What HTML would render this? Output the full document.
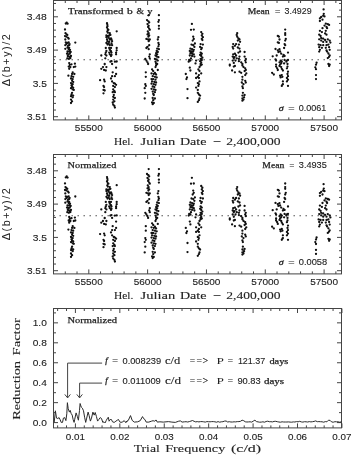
<!DOCTYPE html>
<html><head><meta charset="utf-8"><title>Plot</title>
<style>html,body{margin:0;padding:0;background:#fff;}svg{display:block;}</style>
</head><body>
<svg width="351" height="455" viewBox="0 0 351 455">
<rect width="351" height="455" fill="#fff"/>
<g fill="#222">
<rect x="53.5" y="0.5" width="288.00" height="119.4" fill="none" stroke="#444" stroke-width="1"/>
<path d="M65.27 119.9v-2.5M65.27 0.5v2.5M77.03 119.9v-2.5M77.03 0.5v2.5M88.80 119.9v-4.5M88.80 0.5v4.5M100.56 119.9v-2.5M100.56 0.5v2.5M112.33 119.9v-2.5M112.33 0.5v2.5M124.09 119.9v-2.5M124.09 0.5v2.5M135.86 119.9v-2.5M135.86 0.5v2.5M147.62 119.9v-4.5M147.62 0.5v4.5M159.38 119.9v-2.5M159.38 0.5v2.5M171.15 119.9v-2.5M171.15 0.5v2.5M182.91 119.9v-2.5M182.91 0.5v2.5M194.68 119.9v-2.5M194.68 0.5v2.5M206.44 119.9v-4.5M206.44 0.5v4.5M218.21 119.9v-2.5M218.21 0.5v2.5M229.97 119.9v-2.5M229.97 0.5v2.5M241.74 119.9v-2.5M241.74 0.5v2.5M253.50 119.9v-2.5M253.50 0.5v2.5M265.27 119.9v-4.5M265.27 0.5v4.5M277.03 119.9v-2.5M277.03 0.5v2.5M288.80 119.9v-2.5M288.80 0.5v2.5M300.56 119.9v-2.5M300.56 0.5v2.5M312.33 119.9v-2.5M312.33 0.5v2.5M324.10 119.9v-4.5M324.10 0.5v4.5M335.86 119.9v-2.5M335.86 0.5v2.5M53.5 3.48h2.5M341.5 3.48h-2.5M53.5 10.14h2.5M341.5 10.14h-2.5M53.5 16.80h4.5M341.5 16.80h-4.5M53.5 23.46h2.5M341.5 23.46h-2.5M53.5 30.12h2.5M341.5 30.12h-2.5M53.5 36.78h2.5M341.5 36.78h-2.5M53.5 43.44h2.5M341.5 43.44h-2.5M53.5 50.10h4.5M341.5 50.10h-4.5M53.5 56.76h2.5M341.5 56.76h-2.5M53.5 63.42h2.5M341.5 63.42h-2.5M53.5 70.08h2.5M341.5 70.08h-2.5M53.5 76.74h2.5M341.5 76.74h-2.5M53.5 83.40h4.5M341.5 83.40h-4.5M53.5 90.06h2.5M341.5 90.06h-2.5M53.5 96.72h2.5M341.5 96.72h-2.5M53.5 103.38h2.5M341.5 103.38h-2.5M53.5 110.04h2.5M341.5 110.04h-2.5M53.5 116.70h4.5M341.5 116.70h-4.5" stroke="#444" stroke-width="1" fill="none"/>
<text x="26.70" y="20.10" font-family='"Liberation Sans", sans-serif' font-size="8.7" text-anchor="start" textLength="20.20" lengthAdjust="spacingAndGlyphs" stroke="#222" stroke-width="0.1" >3.48</text>
<text x="26.70" y="53.40" font-family='"Liberation Sans", sans-serif' font-size="8.7" text-anchor="start" textLength="20.20" lengthAdjust="spacingAndGlyphs" stroke="#222" stroke-width="0.1" >3.49</text>
<text x="32.70" y="86.70" font-family='"Liberation Sans", sans-serif' font-size="8.7" text-anchor="start" textLength="14.20" lengthAdjust="spacingAndGlyphs" stroke="#222" stroke-width="0.1" >3.5</text>
<text x="26.90" y="120.00" font-family='"Liberation Sans", sans-serif' font-size="8.7" text-anchor="start" textLength="19.60" lengthAdjust="spacingAndGlyphs" stroke="#222" stroke-width="0.1" >3.51</text>
<text x="74.84" y="131.00" font-family='"Liberation Sans", sans-serif' font-size="8.7" text-anchor="start" textLength="27.90" lengthAdjust="spacingAndGlyphs" stroke="#222" stroke-width="0.1" >55500</text>
<text x="133.67" y="131.00" font-family='"Liberation Sans", sans-serif' font-size="8.7" text-anchor="start" textLength="27.90" lengthAdjust="spacingAndGlyphs" stroke="#222" stroke-width="0.1" >56000</text>
<text x="192.49" y="131.00" font-family='"Liberation Sans", sans-serif' font-size="8.7" text-anchor="start" textLength="27.90" lengthAdjust="spacingAndGlyphs" stroke="#222" stroke-width="0.1" >56500</text>
<text x="251.32" y="131.00" font-family='"Liberation Sans", sans-serif' font-size="8.7" text-anchor="start" textLength="27.90" lengthAdjust="spacingAndGlyphs" stroke="#222" stroke-width="0.1" >57000</text>
<text x="310.15" y="131.00" font-family='"Liberation Sans", sans-serif' font-size="8.7" text-anchor="start" textLength="27.90" lengthAdjust="spacingAndGlyphs" stroke="#222" stroke-width="0.1" >57500</text>
<text x="114.00" y="144.60" font-family='"Liberation Serif", serif' font-size="11.0" text-anchor="start" textLength="19.30" lengthAdjust="spacingAndGlyphs" stroke="#222" stroke-width="0.1" >Hel.</text>
<text x="140.50" y="144.60" font-family='"Liberation Serif", serif' font-size="11.0" text-anchor="start" textLength="34.80" lengthAdjust="spacingAndGlyphs" stroke="#222" stroke-width="0.1" >Julian</text>
<text x="179.90" y="144.60" font-family='"Liberation Serif", serif' font-size="11.0" text-anchor="start" textLength="26.60" lengthAdjust="spacingAndGlyphs" stroke="#222" stroke-width="0.1" >Date</text>
<text x="212.70" y="144.60" font-family='"Liberation Serif", serif' font-size="11.0" text-anchor="start" textLength="8.10" lengthAdjust="spacingAndGlyphs" stroke="#222" stroke-width="0.1" >−</text>
<text x="226.30" y="144.60" font-family='"Liberation Serif", serif' font-size="11.0" text-anchor="start" textLength="54.20" lengthAdjust="spacingAndGlyphs" stroke="#222" stroke-width="0.1" >2,400,000</text>
<text transform="translate(9.80 86.30) rotate(-90)" font-family='"Liberation Sans", sans-serif' font-size="10.8" textLength="52.20" lengthAdjust="spacing">Δ(b+y)/2</text>
<rect x="53.5" y="154.5" width="288.00" height="119.4" fill="none" stroke="#444" stroke-width="1"/>
<path d="M65.27 273.9v-2.5M65.27 154.5v2.5M77.03 273.9v-2.5M77.03 154.5v2.5M88.80 273.9v-4.5M88.80 154.5v4.5M100.56 273.9v-2.5M100.56 154.5v2.5M112.33 273.9v-2.5M112.33 154.5v2.5M124.09 273.9v-2.5M124.09 154.5v2.5M135.86 273.9v-2.5M135.86 154.5v2.5M147.62 273.9v-4.5M147.62 154.5v4.5M159.38 273.9v-2.5M159.38 154.5v2.5M171.15 273.9v-2.5M171.15 154.5v2.5M182.91 273.9v-2.5M182.91 154.5v2.5M194.68 273.9v-2.5M194.68 154.5v2.5M206.44 273.9v-4.5M206.44 154.5v4.5M218.21 273.9v-2.5M218.21 154.5v2.5M229.97 273.9v-2.5M229.97 154.5v2.5M241.74 273.9v-2.5M241.74 154.5v2.5M253.50 273.9v-2.5M253.50 154.5v2.5M265.27 273.9v-4.5M265.27 154.5v4.5M277.03 273.9v-2.5M277.03 154.5v2.5M288.80 273.9v-2.5M288.80 154.5v2.5M300.56 273.9v-2.5M300.56 154.5v2.5M312.33 273.9v-2.5M312.33 154.5v2.5M324.10 273.9v-4.5M324.10 154.5v4.5M335.86 273.9v-2.5M335.86 154.5v2.5M53.5 157.48h2.5M341.5 157.48h-2.5M53.5 164.14h2.5M341.5 164.14h-2.5M53.5 170.80h4.5M341.5 170.80h-4.5M53.5 177.46h2.5M341.5 177.46h-2.5M53.5 184.12h2.5M341.5 184.12h-2.5M53.5 190.78h2.5M341.5 190.78h-2.5M53.5 197.44h2.5M341.5 197.44h-2.5M53.5 204.10h4.5M341.5 204.10h-4.5M53.5 210.76h2.5M341.5 210.76h-2.5M53.5 217.42h2.5M341.5 217.42h-2.5M53.5 224.08h2.5M341.5 224.08h-2.5M53.5 230.74h2.5M341.5 230.74h-2.5M53.5 237.40h4.5M341.5 237.40h-4.5M53.5 244.06h2.5M341.5 244.06h-2.5M53.5 250.72h2.5M341.5 250.72h-2.5M53.5 257.38h2.5M341.5 257.38h-2.5M53.5 264.04h2.5M341.5 264.04h-2.5M53.5 270.70h4.5M341.5 270.70h-4.5" stroke="#444" stroke-width="1" fill="none"/>
<text x="26.70" y="174.10" font-family='"Liberation Sans", sans-serif' font-size="8.7" text-anchor="start" textLength="20.20" lengthAdjust="spacingAndGlyphs" stroke="#222" stroke-width="0.1" >3.48</text>
<text x="26.70" y="207.40" font-family='"Liberation Sans", sans-serif' font-size="8.7" text-anchor="start" textLength="20.20" lengthAdjust="spacingAndGlyphs" stroke="#222" stroke-width="0.1" >3.49</text>
<text x="32.70" y="240.70" font-family='"Liberation Sans", sans-serif' font-size="8.7" text-anchor="start" textLength="14.20" lengthAdjust="spacingAndGlyphs" stroke="#222" stroke-width="0.1" >3.5</text>
<text x="26.90" y="274.00" font-family='"Liberation Sans", sans-serif' font-size="8.7" text-anchor="start" textLength="19.60" lengthAdjust="spacingAndGlyphs" stroke="#222" stroke-width="0.1" >3.51</text>
<text x="74.84" y="285.00" font-family='"Liberation Sans", sans-serif' font-size="8.7" text-anchor="start" textLength="27.90" lengthAdjust="spacingAndGlyphs" stroke="#222" stroke-width="0.1" >55500</text>
<text x="133.67" y="285.00" font-family='"Liberation Sans", sans-serif' font-size="8.7" text-anchor="start" textLength="27.90" lengthAdjust="spacingAndGlyphs" stroke="#222" stroke-width="0.1" >56000</text>
<text x="192.49" y="285.00" font-family='"Liberation Sans", sans-serif' font-size="8.7" text-anchor="start" textLength="27.90" lengthAdjust="spacingAndGlyphs" stroke="#222" stroke-width="0.1" >56500</text>
<text x="251.32" y="285.00" font-family='"Liberation Sans", sans-serif' font-size="8.7" text-anchor="start" textLength="27.90" lengthAdjust="spacingAndGlyphs" stroke="#222" stroke-width="0.1" >57000</text>
<text x="310.15" y="285.00" font-family='"Liberation Sans", sans-serif' font-size="8.7" text-anchor="start" textLength="27.90" lengthAdjust="spacingAndGlyphs" stroke="#222" stroke-width="0.1" >57500</text>
<text x="114.00" y="298.60" font-family='"Liberation Serif", serif' font-size="11.0" text-anchor="start" textLength="19.30" lengthAdjust="spacingAndGlyphs" stroke="#222" stroke-width="0.1" >Hel.</text>
<text x="140.50" y="298.60" font-family='"Liberation Serif", serif' font-size="11.0" text-anchor="start" textLength="34.80" lengthAdjust="spacingAndGlyphs" stroke="#222" stroke-width="0.1" >Julian</text>
<text x="179.90" y="298.60" font-family='"Liberation Serif", serif' font-size="11.0" text-anchor="start" textLength="26.60" lengthAdjust="spacingAndGlyphs" stroke="#222" stroke-width="0.1" >Date</text>
<text x="212.70" y="298.60" font-family='"Liberation Serif", serif' font-size="11.0" text-anchor="start" textLength="8.10" lengthAdjust="spacingAndGlyphs" stroke="#222" stroke-width="0.1" >−</text>
<text x="226.30" y="298.60" font-family='"Liberation Serif", serif' font-size="11.0" text-anchor="start" textLength="54.20" lengthAdjust="spacingAndGlyphs" stroke="#222" stroke-width="0.1" >2,400,000</text>
<text transform="translate(9.80 240.30) rotate(-90)" font-family='"Liberation Sans", sans-serif' font-size="10.8" textLength="52.20" lengthAdjust="spacing">Δ(b+y)/2</text>
<text x="68.00" y="14.10" font-family='"Liberation Serif", serif' font-size="8.8" text-anchor="start" textLength="55.40" lengthAdjust="spacingAndGlyphs" stroke="#222" stroke-width="0.25" >Transformed</text>
<text x="127.10" y="14.10" font-family='"Liberation Serif", serif' font-size="8.8" text-anchor="start" textLength="5.70" lengthAdjust="spacingAndGlyphs" stroke="#222" stroke-width="0.25" >b</text>
<text x="136.50" y="14.10" font-family='"Liberation Serif", serif' font-size="8.8" text-anchor="start" textLength="7.40" lengthAdjust="spacingAndGlyphs" stroke="#222" stroke-width="0.25" >&amp;</text>
<text x="147.20" y="14.10" font-family='"Liberation Serif", serif' font-size="8.8" text-anchor="start" textLength="5.20" lengthAdjust="spacingAndGlyphs" stroke="#222" stroke-width="0.25" >y</text>
<text x="247.70" y="14.20" font-family='"Liberation Serif", serif' font-size="8.8" text-anchor="start" textLength="21.90" lengthAdjust="spacingAndGlyphs" stroke="#222" stroke-width="0.25" >Mean</text>
<text x="274.70" y="14.70" font-family='"Liberation Serif", serif' font-size="9.6" text-anchor="start" textLength="5.80" lengthAdjust="spacingAndGlyphs" >=</text>
<text x="284.50" y="14.10" font-family='"Liberation Sans", sans-serif' font-size="8.2" text-anchor="start" textLength="27.10" lengthAdjust="spacingAndGlyphs" stroke="#222" stroke-width="0.1" >3.4929</text>
<text x="278.80" y="111.40" font-family='"Liberation Serif", serif' font-size="8.8" text-anchor="start" textLength="4.90" lengthAdjust="spacingAndGlyphs" stroke="#222" stroke-width="0.35" ><tspan font-style="italic">σ</tspan></text>
<text x="288.00" y="112.00" font-family='"Liberation Serif", serif' font-size="9.6" text-anchor="start" textLength="6.80" lengthAdjust="spacingAndGlyphs" >=</text>
<text x="298.80" y="111.40" font-family='"Liberation Sans", sans-serif' font-size="8.2" text-anchor="start" textLength="27.50" lengthAdjust="spacingAndGlyphs" stroke="#222" stroke-width="0.1" >0.0061</text>
<text x="67.50" y="167.90" font-family='"Liberation Serif", serif' font-size="8.8" text-anchor="start" textLength="48.90" lengthAdjust="spacingAndGlyphs" stroke="#222" stroke-width="0.25" >Normalized</text>
<text x="262.30" y="168.20" font-family='"Liberation Serif", serif' font-size="8.8" text-anchor="start" textLength="22.00" lengthAdjust="spacingAndGlyphs" stroke="#222" stroke-width="0.25" >Mean</text>
<text x="289.30" y="168.70" font-family='"Liberation Serif", serif' font-size="9.6" text-anchor="start" textLength="5.20" lengthAdjust="spacingAndGlyphs" >=</text>
<text x="298.80" y="168.10" font-family='"Liberation Sans", sans-serif' font-size="8.2" text-anchor="start" textLength="28.00" lengthAdjust="spacingAndGlyphs" stroke="#222" stroke-width="0.1" >3.4935</text>
<text x="278.80" y="265.40" font-family='"Liberation Serif", serif' font-size="8.8" text-anchor="start" textLength="4.90" lengthAdjust="spacingAndGlyphs" stroke="#222" stroke-width="0.35" ><tspan font-style="italic">σ</tspan></text>
<text x="288.00" y="266.00" font-family='"Liberation Serif", serif' font-size="9.6" text-anchor="start" textLength="6.80" lengthAdjust="spacingAndGlyphs" >=</text>
<text x="298.80" y="265.40" font-family='"Liberation Sans", sans-serif' font-size="8.2" text-anchor="start" textLength="28.40" lengthAdjust="spacingAndGlyphs" stroke="#222" stroke-width="0.1" >0.0058</text>
<rect x="53.5" y="308.5" width="288.00" height="119.4" fill="none" stroke="#444" stroke-width="1"/>
<path d="M57.64 427.9v-2.5M57.64 308.5v2.5M66.53 427.9v-2.5M66.53 308.5v2.5M75.41 427.9v-4.5M75.41 308.5v4.5M84.29 427.9v-2.5M84.29 308.5v2.5M93.18 427.9v-2.5M93.18 308.5v2.5M102.06 427.9v-2.5M102.06 308.5v2.5M110.95 427.9v-2.5M110.95 308.5v2.5M119.83 427.9v-4.5M119.83 308.5v4.5M128.71 427.9v-2.5M128.71 308.5v2.5M137.60 427.9v-2.5M137.60 308.5v2.5M146.48 427.9v-2.5M146.48 308.5v2.5M155.37 427.9v-2.5M155.37 308.5v2.5M164.25 427.9v-4.5M164.25 308.5v4.5M173.13 427.9v-2.5M173.13 308.5v2.5M182.02 427.9v-2.5M182.02 308.5v2.5M190.90 427.9v-2.5M190.90 308.5v2.5M199.79 427.9v-2.5M199.79 308.5v2.5M208.67 427.9v-4.5M208.67 308.5v4.5M217.55 427.9v-2.5M217.55 308.5v2.5M226.44 427.9v-2.5M226.44 308.5v2.5M235.32 427.9v-2.5M235.32 308.5v2.5M244.21 427.9v-2.5M244.21 308.5v2.5M253.09 427.9v-4.5M253.09 308.5v4.5M261.97 427.9v-2.5M261.97 308.5v2.5M270.86 427.9v-2.5M270.86 308.5v2.5M279.74 427.9v-2.5M279.74 308.5v2.5M288.63 427.9v-2.5M288.63 308.5v2.5M297.51 427.9v-4.5M297.51 308.5v4.5M306.39 427.9v-2.5M306.39 308.5v2.5M315.28 427.9v-2.5M315.28 308.5v2.5M324.16 427.9v-2.5M324.16 308.5v2.5M333.05 427.9v-2.5M333.05 308.5v2.5M341.93 427.9v-4.5M341.93 308.5v4.5M53.5 422.60h4.5M341.5 422.60h-4.5M53.5 412.62h2.5M341.5 412.62h-2.5M53.5 402.65h4.5M341.5 402.65h-4.5M53.5 392.68h2.5M341.5 392.68h-2.5M53.5 382.70h4.5M341.5 382.70h-4.5M53.5 372.73h2.5M341.5 372.73h-2.5M53.5 362.75h4.5M341.5 362.75h-4.5M53.5 352.78h2.5M341.5 352.78h-2.5M53.5 342.80h4.5M341.5 342.80h-4.5M53.5 332.83h2.5M341.5 332.83h-2.5M53.5 322.85h4.5M341.5 322.85h-4.5M53.5 312.88h2.5M341.5 312.88h-2.5" stroke="#444" stroke-width="1" fill="none"/>
<text x="32.70" y="425.90" font-family='"Liberation Sans", sans-serif' font-size="8.7" text-anchor="start" textLength="14.10" lengthAdjust="spacingAndGlyphs" stroke="#222" stroke-width="0.1" >0.0</text>
<text x="32.70" y="405.95" font-family='"Liberation Sans", sans-serif' font-size="8.7" text-anchor="start" textLength="14.10" lengthAdjust="spacingAndGlyphs" stroke="#222" stroke-width="0.1" >0.2</text>
<text x="32.70" y="386.00" font-family='"Liberation Sans", sans-serif' font-size="8.7" text-anchor="start" textLength="14.10" lengthAdjust="spacingAndGlyphs" stroke="#222" stroke-width="0.1" >0.4</text>
<text x="32.70" y="366.05" font-family='"Liberation Sans", sans-serif' font-size="8.7" text-anchor="start" textLength="14.10" lengthAdjust="spacingAndGlyphs" stroke="#222" stroke-width="0.1" >0.6</text>
<text x="32.70" y="346.10" font-family='"Liberation Sans", sans-serif' font-size="8.7" text-anchor="start" textLength="14.10" lengthAdjust="spacingAndGlyphs" stroke="#222" stroke-width="0.1" >0.8</text>
<text x="32.70" y="326.15" font-family='"Liberation Sans", sans-serif' font-size="8.7" text-anchor="start" textLength="14.10" lengthAdjust="spacingAndGlyphs" stroke="#222" stroke-width="0.1" >1.0</text>
<text x="65.86" y="439.80" font-family='"Liberation Sans", sans-serif' font-size="8.7" text-anchor="start" textLength="19.10" lengthAdjust="spacingAndGlyphs" stroke="#222" stroke-width="0.1" >0.01</text>
<text x="110.28" y="439.80" font-family='"Liberation Sans", sans-serif' font-size="8.7" text-anchor="start" textLength="19.10" lengthAdjust="spacingAndGlyphs" stroke="#222" stroke-width="0.1" >0.02</text>
<text x="154.70" y="439.80" font-family='"Liberation Sans", sans-serif' font-size="8.7" text-anchor="start" textLength="19.10" lengthAdjust="spacingAndGlyphs" stroke="#222" stroke-width="0.1" >0.03</text>
<text x="199.12" y="439.80" font-family='"Liberation Sans", sans-serif' font-size="8.7" text-anchor="start" textLength="19.10" lengthAdjust="spacingAndGlyphs" stroke="#222" stroke-width="0.1" >0.04</text>
<text x="243.54" y="439.80" font-family='"Liberation Sans", sans-serif' font-size="8.7" text-anchor="start" textLength="19.10" lengthAdjust="spacingAndGlyphs" stroke="#222" stroke-width="0.1" >0.05</text>
<text x="287.96" y="439.80" font-family='"Liberation Sans", sans-serif' font-size="8.7" text-anchor="start" textLength="19.10" lengthAdjust="spacingAndGlyphs" stroke="#222" stroke-width="0.1" >0.06</text>
<text x="332.38" y="439.80" font-family='"Liberation Sans", sans-serif' font-size="8.7" text-anchor="start" textLength="19.10" lengthAdjust="spacingAndGlyphs" stroke="#222" stroke-width="0.1" >0.07</text>
<text x="133.70" y="452.00" font-family='"Liberation Serif", serif' font-size="11.0" text-anchor="start" textLength="26.10" lengthAdjust="spacingAndGlyphs" stroke="#222" stroke-width="0.1" >Trial</text>
<text x="165.20" y="452.00" font-family='"Liberation Serif", serif' font-size="11.0" text-anchor="start" textLength="60.10" lengthAdjust="spacingAndGlyphs" stroke="#222" stroke-width="0.1" >Frequency</text>
<text x="231.00" y="452.00" font-family='"Liberation Serif", serif' font-size="11.0" text-anchor="start" textLength="30.20" lengthAdjust="spacingAndGlyphs" stroke="#222" stroke-width="0.1" >(c/d)</text>
<text transform="translate(20.40 419.80) rotate(-90)" font-family='"Liberation Serif", serif' font-size="11.0" textLength="58.80" lengthAdjust="spacingAndGlyphs" stroke="#222" stroke-width="0.1">Reduction</text>
<text transform="translate(20.40 355.40) rotate(-90)" font-family='"Liberation Serif", serif' font-size="11.0" textLength="37.20" lengthAdjust="spacingAndGlyphs" stroke="#222" stroke-width="0.1">Factor</text>
<text x="67.50" y="322.80" font-family='"Liberation Serif", serif' font-size="8.8" text-anchor="start" textLength="49.60" lengthAdjust="spacingAndGlyphs" stroke="#222" stroke-width="0.25" >Normalized</text>
<text x="105.2" y="363.30" font-family='"Liberation Serif", serif' font-size="8.6" text-anchor="start" stroke="#222" stroke-width="0.3" ><tspan font-style="italic">f</tspan></text>
<text x="112.10" y="364.20" font-family='"Liberation Serif", serif' font-size="9.6" text-anchor="start" textLength="6.20" lengthAdjust="spacingAndGlyphs" >=</text>
<text x="122.50" y="363.60" font-family='"Liberation Sans", sans-serif' font-size="8.2" text-anchor="start" textLength="38.60" lengthAdjust="spacingAndGlyphs" stroke="#222" stroke-width="0.1" >0.008239</text>
<text x="164.90" y="363.60" font-family='"Liberation Serif", serif' font-size="10.0" text-anchor="start" textLength="15.30" lengthAdjust="spacingAndGlyphs" stroke="#222" stroke-width="0.12" >c/d</text>
<text x="189.80" y="364.10" font-family='"Liberation Serif", serif' font-size="9.6" text-anchor="start" textLength="5.40" lengthAdjust="spacingAndGlyphs" stroke="#222" stroke-width="0.1" >=</text>
<text x="196.40" y="364.10" font-family='"Liberation Serif", serif' font-size="9.6" text-anchor="start" textLength="5.50" lengthAdjust="spacingAndGlyphs" stroke="#222" stroke-width="0.1" >=</text>
<text x="202.60" y="363.80" font-family='"Liberation Serif", serif' font-size="9.6" text-anchor="start" textLength="5.60" lengthAdjust="spacingAndGlyphs" stroke="#222" stroke-width="0.15" >&gt;</text>
<text x="216.50" y="363.60" font-family='"Liberation Serif", serif' font-size="8.8" text-anchor="start" textLength="7.40" lengthAdjust="spacingAndGlyphs" >P</text>
<text x="227.60" y="364.20" font-family='"Liberation Serif", serif' font-size="9.6" text-anchor="start" textLength="5.70" lengthAdjust="spacingAndGlyphs" >=</text>
<text x="237.90" y="363.60" font-family='"Liberation Sans", sans-serif' font-size="8.2" text-anchor="start" textLength="27.40" lengthAdjust="spacingAndGlyphs" stroke="#222" stroke-width="0.1" >121.37</text>
<text x="269.40" y="363.60" font-family='"Liberation Serif", serif' font-size="8.8" text-anchor="start" textLength="19.00" lengthAdjust="spacingAndGlyphs" stroke="#222" stroke-width="0.25" >days</text>
<text x="105.2" y="383.30" font-family='"Liberation Serif", serif' font-size="8.6" text-anchor="start" stroke="#222" stroke-width="0.3" ><tspan font-style="italic">f</tspan></text>
<text x="112.10" y="384.20" font-family='"Liberation Serif", serif' font-size="9.6" text-anchor="start" textLength="6.20" lengthAdjust="spacingAndGlyphs" >=</text>
<text x="122.50" y="383.60" font-family='"Liberation Sans", sans-serif' font-size="8.2" text-anchor="start" textLength="38.30" lengthAdjust="spacingAndGlyphs" stroke="#222" stroke-width="0.1" >0.011009</text>
<text x="165.00" y="383.60" font-family='"Liberation Serif", serif' font-size="10.0" text-anchor="start" textLength="16.00" lengthAdjust="spacingAndGlyphs" stroke="#222" stroke-width="0.12" >c/d</text>
<text x="189.80" y="384.10" font-family='"Liberation Serif", serif' font-size="9.6" text-anchor="start" textLength="5.40" lengthAdjust="spacingAndGlyphs" stroke="#222" stroke-width="0.1" >=</text>
<text x="196.40" y="384.10" font-family='"Liberation Serif", serif' font-size="9.6" text-anchor="start" textLength="5.50" lengthAdjust="spacingAndGlyphs" stroke="#222" stroke-width="0.1" >=</text>
<text x="202.60" y="383.80" font-family='"Liberation Serif", serif' font-size="9.6" text-anchor="start" textLength="5.60" lengthAdjust="spacingAndGlyphs" stroke="#222" stroke-width="0.15" >&gt;</text>
<text x="216.50" y="383.60" font-family='"Liberation Serif", serif' font-size="8.8" text-anchor="start" textLength="7.40" lengthAdjust="spacingAndGlyphs" >P</text>
<text x="227.60" y="384.20" font-family='"Liberation Serif", serif' font-size="9.6" text-anchor="start" textLength="5.70" lengthAdjust="spacingAndGlyphs" >=</text>
<text x="237.40" y="383.60" font-family='"Liberation Sans", sans-serif' font-size="8.2" text-anchor="start" textLength="23.30" lengthAdjust="spacingAndGlyphs" stroke="#222" stroke-width="0.1" >90.83</text>
<text x="263.90" y="383.60" font-family='"Liberation Serif", serif' font-size="8.8" text-anchor="start" textLength="20.20" lengthAdjust="spacingAndGlyphs" stroke="#222" stroke-width="0.25" >days</text>
</g>
<path d="M102.1 363.1H67.6V397.9M64.8 394.4L67.6 397.9L70.4 394.4M102.1 383.1H79.6V397.9M76.8 394.4L79.6 397.9L82.4 394.4" stroke="#444" stroke-width="1" fill="none"/>
<line x1="53.5" y1="59.76" x2="341.5" y2="59.76" stroke="#444" stroke-width="1.2" stroke-dasharray="1.4 4.6"/>
<line x1="53.5" y1="215.76" x2="341.5" y2="215.76" stroke="#444" stroke-width="1.2" stroke-dasharray="1.4 4.6"/>
<path d="M65.8 23.5h0M66.7 22.6h0M67.6 23.7h0M65.0 29.5h0M65.5 33.2h0M66.4 34.1h0M67.3 34.9h0M65.0 36.1h0M66.4 36.7h0M68.1 37.8h0M68.7 38.7h0M65.3 39.5h0M65.8 42.4h0M67.5 42.9h0M68.7 42.4h0M69.6 44.1h0M66.4 44.1h0M65.3 45.2h0M68.1 45.8h0M69.2 45.2h0M67.5 47.5h0M69.2 48.0h0M65.3 48.8h0M68.7 49.2h0M70.0 49.8h0M67.5 51.5h0M69.2 51.5h0M70.7 52.0h0M67.0 53.7h0M68.4 54.3h0M69.8 53.7h0M67.8 56.0h0M69.2 56.6h0M71.0 56.0h0M67.3 58.3h0M68.9 58.9h0M70.4 58.1h0M75.3 42.6h0M69.2 63.1h0M69.8 64.8h0M71.5 64.3h0M74.9 63.7h0M68.7 66.6h0M70.4 67.1h0M73.8 67.1h0M75.3 66.6h0M69.2 68.8h0M72.7 72.3h0M72.1 74.0h0M74.4 74.0h0M68.4 75.7h0M71.5 76.2h0M73.2 76.8h0M71.0 78.5h0M72.7 79.1h0M72.1 80.8h0M73.2 81.9h0M71.0 83.1h0M72.7 84.2h0M71.5 85.4h0M72.1 86.5h0M73.2 87.6h0M71.0 88.2h0M72.7 89.4h0M73.8 89.9h0M72.1 92.8h0M71.5 94.5h0M73.2 95.6h0M71.0 96.2h0M72.7 97.3h0M71.0 99.6h0M72.1 101.3h0M71.0 103.0h0M107.0 23.2h0M107.3 24.7h0M107.5 26.2h0M107.0 27.5h0M107.8 29.2h0M108.4 29.8h0M107.3 31.5h0M107.8 32.7h0M109.8 33.2h0M116.7 31.3h0M106.4 35.5h0M107.5 36.1h0M109.2 35.5h0M110.4 34.9h0M106.4 37.2h0M108.7 37.8h0M111.0 38.4h0M107.0 39.5h0M109.8 39.5h0M111.5 39.5h0M107.5 41.2h0M109.2 41.8h0M112.1 41.2h0M106.4 42.9h0M108.7 43.5h0M111.5 43.5h0M107.5 44.6h0M109.8 45.2h0M112.1 45.2h0M105.8 48.0h0M109.2 48.0h0M111.0 48.0h0M116.7 48.0h0M109.8 49.8h0M106.4 50.9h0M111.0 51.2h0M116.7 50.3h0M105.8 52.6h0M109.2 52.6h0M111.5 52.6h0M116.1 52.6h0M105.3 54.3h0M109.8 54.3h0M111.5 54.9h0M116.1 54.3h0M101.3 55.5h0M106.4 55.5h0M111.0 56.0h0M105.3 58.3h0M110.4 61.7h0M111.5 61.2h0M114.9 61.7h0M116.7 61.5h0M104.7 64.0h0M112.1 64.0h0M104.7 64.3h0M103.0 67.1h0M106.4 67.1h0M101.3 68.8h0M104.1 70.0h0M105.8 70.5h0M116.1 67.7h0M112.7 72.3h0M116.1 74.0h0M112.1 76.2h0M114.9 76.2h0M111.0 78.5h0M112.1 81.4h0M113.8 83.1h0M114.9 83.7h0M116.1 84.8h0M113.2 85.9h0M114.9 87.1h0M113.2 89.4h0M114.4 91.1h0M112.7 92.2h0M114.9 92.2h0M113.8 95.0h0M113.2 96.8h0M114.9 97.9h0M113.2 99.6h0M114.4 101.3h0M112.7 102.5h0M113.2 104.7h0M114.4 105.9h0M114.9 107.6h0M100.1 80.2h0M104.1 79.7h0M104.7 81.4h0M103.5 85.9h0M104.1 87.1h0M103.5 89.9h0M104.7 90.5h0M103.5 93.3h0M148.7 15.2h0M147.0 20.1h0M148.4 21.3h0M149.2 22.4h0M147.5 24.1h0M148.7 25.8h0M148.1 27.0h0M149.2 28.7h0M149.8 29.8h0M147.8 31.5h0M148.7 33.2h0M147.5 34.4h0M149.2 35.5h0M148.4 36.7h0M146.4 38.9h0M148.1 39.5h0M149.8 39.5h0M148.7 41.2h0M149.2 45.2h0M147.5 46.9h0M146.4 48.0h0M148.7 49.2h0M149.8 54.3h0M149.2 56.6h0M149.8 58.3h0M145.3 58.9h0M146.4 60.6h0M147.5 62.3h0M148.1 64.0h0M158.9 20.1h0M158.4 21.8h0M158.9 25.8h0M158.9 28.7h0M158.4 37.2h0M157.8 39.5h0M158.4 42.9h0M158.9 44.6h0M158.4 46.3h0M157.2 48.6h0M158.9 49.2h0M156.7 50.9h0M157.8 52.0h0M156.1 53.2h0M157.2 54.3h0M155.5 55.5h0M156.7 56.6h0M158.4 57.2h0M154.9 58.9h0M156.7 59.4h0M157.8 60.6h0M155.5 61.7h0M156.1 63.4h0M157.2 64.0h0M158.9 15.2h0M145.8 72.3h0M145.8 76.8h0M145.3 84.2h0M145.8 85.9h0M144.7 88.2h0M145.3 92.8h0M144.7 98.5h0M156.1 65.4h0M155.5 67.1h0M152.1 69.4h0M157.8 70.0h0M153.2 71.1h0M154.9 72.8h0M151.5 73.4h0M153.8 74.0h0M156.1 74.5h0M152.7 76.2h0M154.9 76.8h0M156.7 77.4h0M151.5 79.1h0M153.2 79.1h0M155.5 79.7h0M152.1 81.4h0M154.4 81.9h0M156.1 82.5h0M151.5 83.7h0M153.8 84.2h0M155.5 84.8h0M152.7 86.5h0M154.4 87.1h0M151.5 88.8h0M153.8 89.4h0M155.5 89.9h0M152.7 91.6h0M154.9 92.2h0M153.2 93.9h0M153.8 95.0h0M152.7 97.9h0M154.9 98.5h0M153.2 100.2h0M152.1 102.5h0M153.8 103.0h0M152.7 104.2h0M191.9 23.9h0M191.0 29.8h0M193.8 29.6h0M193.2 36.7h0M193.8 38.9h0M192.7 40.6h0M194.9 43.5h0M191.5 44.6h0M193.2 45.2h0M194.4 46.9h0M190.4 48.6h0M192.1 49.2h0M193.8 49.8h0M189.8 50.9h0M191.5 51.5h0M193.2 51.5h0M190.4 53.2h0M192.1 53.7h0M193.8 54.3h0M189.8 55.5h0M192.1 56.0h0M194.4 56.6h0M191.0 58.3h0M189.2 60.0h0M190.4 60.6h0M188.7 61.7h0M196.1 60.6h0M195.5 63.4h0M201.2 32.1h0M202.4 33.8h0M201.8 35.5h0M202.9 37.2h0M201.8 38.9h0M202.4 40.1h0M200.6 44.1h0M202.9 44.6h0M200.1 46.9h0M201.8 48.0h0M201.2 49.2h0M200.6 52.6h0M201.8 53.7h0M200.1 54.9h0M201.2 56.0h0M202.4 57.7h0M200.6 58.9h0M201.8 60.0h0M200.1 61.2h0M201.2 62.3h0M200.6 64.0h0M201.8 64.6h0M189.8 67.7h0M190.4 70.5h0M185.8 74.0h0M187.0 77.4h0M186.4 79.1h0M187.5 89.1h0M187.5 98.2h0M200.6 65.4h0M199.5 67.1h0M198.4 69.4h0M199.5 71.1h0M201.2 73.4h0M196.1 73.4h0M198.9 75.1h0M197.8 76.8h0M196.1 78.0h0M198.9 78.0h0M199.5 81.4h0M197.8 83.1h0M198.9 84.2h0M198.4 85.9h0M196.1 87.6h0M197.8 89.9h0M197.8 92.8h0M198.9 94.5h0M200.1 95.6h0M199.5 98.5h0M198.9 100.2h0M197.8 101.9h0M237.2 33.2h0M236.7 34.9h0M237.2 36.7h0M238.4 38.4h0M239.5 39.5h0M237.8 40.6h0M240.1 41.8h0M233.2 44.1h0M236.1 44.1h0M238.9 44.6h0M234.9 45.8h0M232.7 46.9h0M237.8 47.5h0M233.2 48.6h0M239.5 48.6h0M240.1 51.5h0M238.4 52.6h0M244.6 52.0h0M233.2 54.3h0M234.9 53.7h0M236.1 55.5h0M232.7 56.6h0M234.4 57.2h0M239.5 56.6h0M244.6 56.6h0M233.8 58.3h0M236.7 58.3h0M238.9 58.9h0M245.8 58.9h0M232.7 60.6h0M235.5 60.6h0M238.9 61.2h0M245.2 60.6h0M233.8 62.9h0M241.2 62.3h0M245.8 62.3h0M229.8 64.6h0M242.4 64.0h0M229.8 65.6h0M233.8 66.6h0M234.9 66.0h0M232.1 70.5h0M234.9 72.3h0M239.5 71.7h0M241.2 72.8h0M242.4 65.4h0M243.5 67.1h0M245.2 68.3h0M245.8 70.0h0M244.6 71.1h0M246.3 73.4h0M245.2 75.1h0M242.4 76.8h0M242.4 79.7h0M245.2 80.8h0M241.8 82.5h0M245.8 82.5h0M243.5 84.2h0M242.4 86.5h0M242.9 88.2h0M242.9 92.8h0M244.6 95.0h0M242.4 95.6h0M244.1 97.3h0M242.4 98.5h0M243.5 99.6h0M242.4 100.7h0M285.2 29.6h0M285.2 33.2h0M285.2 34.9h0M285.8 38.9h0M285.2 40.6h0M284.6 44.1h0M285.2 45.2h0M284.1 48.0h0M277.8 35.9h0M278.9 36.7h0M279.5 39.5h0M277.8 42.4h0M278.9 42.9h0M275.5 49.0h0M277.8 50.3h0M279.5 49.2h0M278.4 52.0h0M280.1 51.5h0M281.2 53.7h0M288.0 52.6h0M272.7 56.3h0M276.7 55.5h0M283.5 54.9h0M284.6 56.0h0M282.9 56.6h0M275.5 59.4h0M276.1 60.6h0M280.6 60.6h0M281.8 61.7h0M284.6 60.0h0M286.9 60.6h0M288.0 60.0h0M286.3 61.7h0M279.5 62.3h0M281.2 63.4h0M276.1 64.6h0M280.1 64.6h0M284.1 63.4h0M287.5 64.0h0M276.1 66.6h0M277.2 68.3h0M279.5 66.0h0M281.2 67.1h0M281.8 68.8h0M277.8 70.0h0M282.9 70.5h0M287.5 66.6h0M286.9 68.3h0M272.1 72.8h0M273.8 74.5h0M280.1 75.7h0M281.8 75.1h0M282.4 76.8h0M280.6 77.4h0M288.0 71.7h0M287.5 74.0h0M288.0 76.2h0M286.9 78.0h0M288.0 79.7h0M286.9 81.4h0M282.9 81.4h0M282.4 84.8h0M281.8 85.9h0M288.0 85.9h0M282.9 84.2h0M323.6 9.4h0M323.8 13.8h0M323.2 15.7h0M324.5 16.4h0M321.2 17.0h0M319.9 18.3h0M322.5 19.7h0M319.9 21.0h0M325.8 23.6h0M327.8 24.2h0M329.1 24.9h0M324.5 25.6h0M326.5 26.9h0M322.5 28.2h0M327.1 28.2h0M319.9 30.8h0M325.8 30.8h0M321.9 32.1h0M325.1 33.4h0M326.5 34.7h0M319.2 34.7h0M320.6 36.0h0M321.2 38.0h0M319.2 39.3h0M323.2 38.7h0M325.1 40.0h0M327.8 39.3h0M329.7 40.6h0M321.2 40.6h0M323.2 41.9h0M326.5 41.9h0M330.4 42.6h0M318.6 44.6h0M320.6 45.2h0M323.2 45.2h0M326.5 45.2h0M328.4 44.6h0M319.2 47.2h0M321.9 47.8h0M325.8 47.8h0M329.1 47.2h0M319.9 49.8h0M326.5 50.5h0M329.7 49.8h0M319.2 51.6h0M327.1 51.6h0M328.4 53.5h0M329.7 55.5h0M329.1 56.8h0M327.8 58.1h0M316.6 62.7h0M316.0 64.7h0M315.3 67.3h0M316.0 69.2h0M328.4 64.0h0M329.7 64.7h0M329.1 66.0h0M316.0 75.1h0M316.0 79.1h0M65.8 177.4h0M66.7 176.5h0M67.6 177.6h0M65.0 183.4h0M65.5 187.1h0M66.4 188.0h0M67.3 188.8h0M65.0 190.0h0M66.4 190.6h0M68.1 191.7h0M68.7 192.6h0M65.3 193.4h0M65.8 196.3h0M67.5 196.8h0M68.7 196.3h0M69.6 198.0h0M66.4 198.0h0M65.3 199.1h0M68.1 199.7h0M69.2 199.1h0M67.5 201.4h0M69.2 201.9h0M65.3 202.7h0M68.7 203.1h0M70.0 203.7h0M67.5 205.4h0M69.2 205.4h0M70.7 205.9h0M67.0 207.6h0M68.4 208.2h0M69.8 207.6h0M67.8 209.9h0M69.2 210.5h0M71.0 209.9h0M67.3 212.2h0M68.9 212.8h0M70.4 212.0h0M75.3 196.5h0M69.2 217.0h0M69.8 218.7h0M71.5 218.2h0M74.9 217.6h0M68.7 220.5h0M70.4 221.0h0M73.8 221.0h0M75.3 220.5h0M69.2 222.7h0M72.7 226.2h0M72.1 227.9h0M74.4 227.9h0M68.4 229.6h0M71.5 230.1h0M73.2 230.7h0M71.0 232.4h0M72.7 233.0h0M72.1 234.7h0M73.2 235.8h0M71.0 237.0h0M72.7 238.1h0M71.5 239.3h0M72.1 240.4h0M73.2 241.5h0M71.0 242.1h0M72.7 243.3h0M73.8 243.8h0M72.1 246.7h0M71.5 248.4h0M73.2 249.5h0M71.0 250.1h0M72.7 251.2h0M71.0 253.5h0M72.1 255.2h0M71.0 256.9h0M107.0 177.1h0M107.3 178.6h0M107.5 180.1h0M107.0 181.4h0M107.8 183.1h0M108.4 183.7h0M107.3 185.4h0M107.8 186.6h0M109.8 187.1h0M116.7 185.2h0M106.4 189.4h0M107.5 190.0h0M109.2 189.4h0M110.4 188.8h0M106.4 191.1h0M108.7 191.7h0M111.0 192.3h0M107.0 193.4h0M109.8 193.4h0M111.5 193.4h0M107.5 195.1h0M109.2 195.7h0M112.1 195.1h0M106.4 196.8h0M108.7 197.4h0M111.5 197.4h0M107.5 198.5h0M109.8 199.1h0M112.1 199.1h0M105.8 201.9h0M109.2 201.9h0M111.0 201.9h0M116.7 201.9h0M109.8 203.7h0M106.4 204.8h0M111.0 205.1h0M116.7 204.2h0M105.8 206.5h0M109.2 206.5h0M111.5 206.5h0M116.1 206.5h0M105.3 208.2h0M109.8 208.2h0M111.5 208.8h0M116.1 208.2h0M101.3 209.4h0M106.4 209.4h0M111.0 209.9h0M105.3 212.2h0M110.4 215.6h0M111.5 215.1h0M114.9 215.6h0M116.7 215.4h0M104.7 217.9h0M112.1 217.9h0M104.7 218.2h0M103.0 221.0h0M106.4 221.0h0M101.3 222.7h0M104.1 223.9h0M105.8 224.4h0M116.1 221.6h0M112.7 226.2h0M116.1 227.9h0M112.1 230.1h0M114.9 230.1h0M111.0 232.4h0M112.1 235.3h0M113.8 237.0h0M114.9 237.6h0M116.1 238.7h0M113.2 239.8h0M114.9 241.0h0M113.2 243.3h0M114.4 245.0h0M112.7 246.1h0M114.9 246.1h0M113.8 248.9h0M113.2 250.7h0M114.9 251.8h0M113.2 253.5h0M114.4 255.2h0M112.7 256.4h0M113.2 258.6h0M114.4 259.8h0M114.9 261.5h0M100.1 234.1h0M104.1 233.6h0M104.7 235.3h0M103.5 239.8h0M104.1 241.0h0M103.5 243.8h0M104.7 244.4h0M103.5 247.2h0M148.7 169.1h0M147.0 174.0h0M148.4 175.2h0M149.2 176.3h0M147.5 178.0h0M148.7 179.7h0M148.1 180.9h0M149.2 182.6h0M149.8 183.7h0M147.8 185.4h0M148.7 187.1h0M147.5 188.3h0M149.2 189.4h0M148.4 190.6h0M146.4 192.8h0M148.1 193.4h0M149.8 193.4h0M148.7 195.1h0M149.2 199.1h0M147.5 200.8h0M146.4 201.9h0M148.7 203.1h0M149.8 208.2h0M149.2 210.5h0M149.8 212.2h0M145.3 212.8h0M146.4 214.5h0M147.5 216.2h0M148.1 217.9h0M158.9 174.0h0M158.4 175.7h0M158.9 179.7h0M158.9 182.6h0M158.4 191.1h0M157.8 193.4h0M158.4 196.8h0M158.9 198.5h0M158.4 200.2h0M157.2 202.5h0M158.9 203.1h0M156.7 204.8h0M157.8 205.9h0M156.1 207.1h0M157.2 208.2h0M155.5 209.4h0M156.7 210.5h0M158.4 211.1h0M154.9 212.8h0M156.7 213.3h0M157.8 214.5h0M155.5 215.6h0M156.1 217.3h0M157.2 217.9h0M158.9 169.1h0M145.8 226.2h0M145.8 230.7h0M145.3 238.1h0M145.8 239.8h0M144.7 242.1h0M145.3 246.7h0M144.7 252.4h0M156.1 219.3h0M155.5 221.0h0M152.1 223.3h0M157.8 223.9h0M153.2 225.0h0M154.9 226.7h0M151.5 227.3h0M153.8 227.9h0M156.1 228.4h0M152.7 230.1h0M154.9 230.7h0M156.7 231.3h0M151.5 233.0h0M153.2 233.0h0M155.5 233.6h0M152.1 235.3h0M154.4 235.8h0M156.1 236.4h0M151.5 237.6h0M153.8 238.1h0M155.5 238.7h0M152.7 240.4h0M154.4 241.0h0M151.5 242.7h0M153.8 243.3h0M155.5 243.8h0M152.7 245.5h0M154.9 246.1h0M153.2 247.8h0M153.8 248.9h0M152.7 251.8h0M154.9 252.4h0M153.2 254.1h0M152.1 256.4h0M153.8 256.9h0M152.7 258.1h0M191.9 177.8h0M191.0 183.7h0M193.8 183.5h0M193.2 190.6h0M193.8 192.8h0M192.7 194.5h0M194.9 197.4h0M191.5 198.5h0M193.2 199.1h0M194.4 200.8h0M190.4 202.5h0M192.1 203.1h0M193.8 203.7h0M189.8 204.8h0M191.5 205.4h0M193.2 205.4h0M190.4 207.1h0M192.1 207.6h0M193.8 208.2h0M189.8 209.4h0M192.1 209.9h0M194.4 210.5h0M191.0 212.2h0M189.2 213.9h0M190.4 214.5h0M188.7 215.6h0M196.1 214.5h0M195.5 217.3h0M201.2 186.0h0M202.4 187.7h0M201.8 189.4h0M202.9 191.1h0M201.8 192.8h0M202.4 194.0h0M200.6 198.0h0M202.9 198.5h0M200.1 200.8h0M201.8 201.9h0M201.2 203.1h0M200.6 206.5h0M201.8 207.6h0M200.1 208.8h0M201.2 209.9h0M202.4 211.6h0M200.6 212.8h0M201.8 213.9h0M200.1 215.1h0M201.2 216.2h0M200.6 217.9h0M201.8 218.5h0M189.8 221.6h0M190.4 224.4h0M185.8 227.9h0M187.0 231.3h0M186.4 233.0h0M187.5 243.0h0M187.5 252.1h0M200.6 219.3h0M199.5 221.0h0M198.4 223.3h0M199.5 225.0h0M201.2 227.3h0M196.1 227.3h0M198.9 229.0h0M197.8 230.7h0M196.1 231.9h0M198.9 231.9h0M199.5 235.3h0M197.8 237.0h0M198.9 238.1h0M198.4 239.8h0M196.1 241.5h0M197.8 243.8h0M197.8 246.7h0M198.9 248.4h0M200.1 249.5h0M199.5 252.4h0M198.9 254.1h0M197.8 255.8h0M237.2 187.1h0M236.7 188.8h0M237.2 190.6h0M238.4 192.3h0M239.5 193.4h0M237.8 194.5h0M240.1 195.7h0M233.2 198.0h0M236.1 198.0h0M238.9 198.5h0M234.9 199.7h0M232.7 200.8h0M237.8 201.4h0M233.2 202.5h0M239.5 202.5h0M240.1 205.4h0M238.4 206.5h0M244.6 205.9h0M233.2 208.2h0M234.9 207.6h0M236.1 209.4h0M232.7 210.5h0M234.4 211.1h0M239.5 210.5h0M244.6 210.5h0M233.8 212.2h0M236.7 212.2h0M238.9 212.8h0M245.8 212.8h0M232.7 214.5h0M235.5 214.5h0M238.9 215.1h0M245.2 214.5h0M233.8 216.8h0M241.2 216.2h0M245.8 216.2h0M229.8 218.5h0M242.4 217.9h0M229.8 219.5h0M233.8 220.5h0M234.9 219.9h0M232.1 224.4h0M234.9 226.2h0M239.5 225.6h0M241.2 226.7h0M242.4 219.3h0M243.5 221.0h0M245.2 222.2h0M245.8 223.9h0M244.6 225.0h0M246.3 227.3h0M245.2 229.0h0M242.4 230.7h0M242.4 233.6h0M245.2 234.7h0M241.8 236.4h0M245.8 236.4h0M243.5 238.1h0M242.4 240.4h0M242.9 242.1h0M242.9 246.7h0M244.6 248.9h0M242.4 249.5h0M244.1 251.2h0M242.4 252.4h0M243.5 253.5h0M242.4 254.6h0M285.2 183.5h0M285.2 187.1h0M285.2 188.8h0M285.8 192.8h0M285.2 194.5h0M284.6 198.0h0M285.2 199.1h0M284.1 201.9h0M277.8 189.8h0M278.9 190.6h0M279.5 193.4h0M277.8 196.3h0M278.9 196.8h0M275.5 202.9h0M277.8 204.2h0M279.5 203.1h0M278.4 205.9h0M280.1 205.4h0M281.2 207.6h0M288.0 206.5h0M272.7 210.2h0M276.7 209.4h0M283.5 208.8h0M284.6 209.9h0M282.9 210.5h0M275.5 213.3h0M276.1 214.5h0M280.6 214.5h0M281.8 215.6h0M284.6 213.9h0M286.9 214.5h0M288.0 213.9h0M286.3 215.6h0M279.5 216.2h0M281.2 217.3h0M276.1 218.5h0M280.1 218.5h0M284.1 217.3h0M287.5 217.9h0M276.1 220.5h0M277.2 222.2h0M279.5 219.9h0M281.2 221.0h0M281.8 222.7h0M277.8 223.9h0M282.9 224.4h0M287.5 220.5h0M286.9 222.2h0M272.1 226.7h0M273.8 228.4h0M280.1 229.6h0M281.8 229.0h0M282.4 230.7h0M280.6 231.3h0M288.0 225.6h0M287.5 227.9h0M288.0 230.1h0M286.9 231.9h0M288.0 233.6h0M286.9 235.3h0M282.9 235.3h0M282.4 238.7h0M281.8 239.8h0M288.0 239.8h0M282.9 238.1h0M323.6 184.2h0M323.8 188.6h0M323.2 190.5h0M324.5 191.2h0M321.2 191.8h0M319.9 193.1h0M322.5 194.5h0M319.9 195.8h0M325.8 198.4h0M327.8 199.0h0M329.1 199.7h0M324.5 200.4h0M326.5 201.7h0M322.5 203.0h0M327.1 203.0h0M319.9 205.6h0M325.8 205.6h0M321.9 206.9h0M325.1 208.2h0M326.5 209.5h0M319.2 209.5h0M320.6 210.8h0M321.2 212.8h0M319.2 214.1h0M323.2 213.5h0M325.1 214.8h0M327.8 214.1h0M329.7 215.4h0M321.2 215.4h0M323.2 216.7h0M326.5 216.7h0M330.4 217.4h0M318.6 219.4h0M320.6 220.0h0M323.2 220.0h0M326.5 220.0h0M328.4 219.4h0M319.2 222.0h0M321.9 222.6h0M325.8 222.6h0M329.1 222.0h0M319.9 224.6h0M326.5 225.3h0M329.7 224.6h0M319.2 226.4h0M327.1 226.4h0M328.4 228.3h0M329.7 230.3h0M329.1 231.6h0M327.8 232.9h0M316.6 237.5h0M316.0 239.5h0M315.3 242.1h0M316.0 244.0h0M328.4 238.8h0M329.7 239.5h0M329.1 240.8h0M316.0 249.9h0M316.0 253.9h0" stroke="#111" stroke-width="2.30" stroke-linecap="round" fill="none"/>
<path d="M54.2 422.4 L55.4 410.8 L56.5 418.1 L57.8 418.5 L59.1 417.6 L60.2 419.8 L61.2 422.4 L62.5 422.4 L63.4 418.1 L64.7 417.6 L65.9 420.6 L66.8 413.8 L67.4 402.7 L68.2 408.7 L69.4 412.1 L70.2 410.4 L71.1 413.4 L72.2 415.1 L73.2 419.8 L74.1 422.4 L74.6 419.8 L76.1 412.9 L77.3 416.4 L78.4 420.2 L79.5 410.4 L80.1 403.5 L81.2 407.0 L82.4 408.2 L83.5 410.8 L84.6 417.2 L85.7 422.4 L86.7 418.1 L88.1 412.1 L89.1 415.5 L90.4 421.1 L91.5 418.1 L92.9 412.1 L94.2 415.1 L95.2 412.5 L96.4 416.4 L97.6 421.1 L98.9 419.4 L100.2 417.6 L101.5 418.5 L102.8 422.4 L104.0 421.8 L105.1 422.9 L106.2 420.6 L107.1 418.9 L108.3 417.2 L109.1 421.2 L110.2 419.5 L111.4 419.5 L112.5 421.8 L114.2 422.4 L115.9 421.2 L117.4 420.1 L118.5 419.5 L119.7 421.8 L121.0 422.4 L122.8 421.8 L124.2 420.6 L125.6 422.4 L127.3 421.2 L125.7 422.1 L128.3 420.4 L130.5 415.6 L132.2 420.4 L134.3 422.1 L137.7 421.8 L140.2 420.7 L142.5 416.6 L143.7 418.7 L144.9 419.5 L146.2 422.1 L148.8 422.1 L151.4 421.2 L153.1 420.7 L154.4 421.2 L156.1 420.0 L157.3 422.1 L159.9 421.8 L163.3 422.1 L168.4 421.6 L171.9 422.1 L175.3 422.4 L178.7 421.2 L180.4 420.9 L182.1 422.1 L184.5 421.8 L186.1 421.7 L187.7 422.0 L189.3 421.6 L190.9 421.1 L192.5 420.5 L194.1 421.3 L195.7 421.9 L197.3 421.6 L198.9 421.9 L200.5 421.6 L202.1 421.6 L203.7 421.8 L205.3 422.1 L206.9 421.6 L208.5 421.7 L210.1 421.8 L211.7 421.6 L213.3 421.6 L214.9 421.8 L216.5 422.2 L218.1 421.6 L219.7 422.2 L221.3 421.8 L222.9 421.7 L224.5 421.1 L226.1 421.0 L227.7 422.0 L229.3 421.7 L230.9 422.0 L232.5 422.0 L234.1 421.8 L235.7 421.9 L237.3 421.6 L238.9 421.6 L240.5 421.3 L242.1 420.2 L243.7 420.7 L245.3 421.8 L246.9 422.0 L248.5 421.9 L250.1 421.8 L251.7 422.1 L253.3 421.1 L254.9 420.2 L256.5 421.6 L258.1 421.9 L259.7 422.2 L261.3 422.1 L262.9 421.8 L264.5 422.2 L266.1 421.5 L267.7 421.2 L269.3 421.7 L270.9 421.7 L272.5 421.9 L274.1 421.4 L275.7 421.3 L277.3 421.7 L278.9 422.0 L280.5 422.2 L282.1 421.8 L283.7 422.0 L285.3 422.0 L286.9 422.0 L288.5 421.9 L290.1 422.1 L291.7 422.2 L293.3 421.9 L294.9 422.0 L296.5 421.6 L298.1 421.8 L299.7 421.3 L301.3 421.9 L302.9 422.1 L304.5 421.7 L306.1 421.8 L307.7 422.0 L309.3 421.6 L310.9 421.9 L312.5 421.7 L314.1 421.4 L315.7 420.9 L317.3 421.7 L318.9 421.6 L320.5 421.7 L322.1 421.8 L323.7 422.2 L325.3 421.6 L326.9 421.8 L328.5 420.2 L330.1 420.4 L331.7 422.0 L333.3 422.2 L334.9 421.7 L336.5 421.8 L338.1 421.8 L339.7 422.2 L341.5 421.8" stroke="#2a2a2a" stroke-width="1.0" fill="none" stroke-linejoin="round"/>
</svg>
</body></html>
